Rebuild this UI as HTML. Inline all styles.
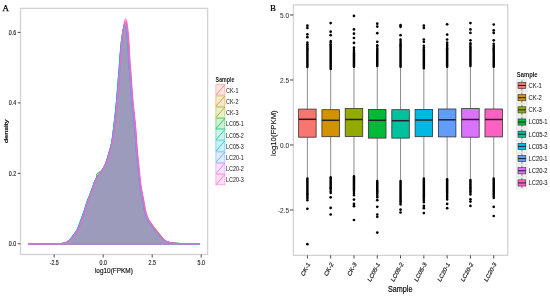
<!DOCTYPE html>
<html><head><meta charset="utf-8"><title>FPKM density and boxplot</title>
<style>
html,body{margin:0;padding:0;background:#fff;}
body{width:550px;height:296px;overflow:hidden;}
svg{display:block;}
</style></head>
<body>
<svg width="550" height="296" viewBox="0 0 550 296">
<rect x="0" y="0" width="550" height="296" fill="#fff"/>
<rect x="20.50" y="8.40" width="187.10" height="246.10" fill="none" stroke="#d2d2d2" stroke-width="1.3" />
<path d="M28.50,243.80 C32.08,243.80 45.08,243.80 50.00,243.78 C54.92,243.76 56.00,243.76 58.00,243.70 C60.00,243.65 60.87,243.57 61.99,243.45 C63.11,243.34 63.92,243.21 64.72,243.01 C65.52,242.80 66.14,242.55 66.78,242.22 C67.43,241.89 67.96,241.51 68.58,241.03 C69.20,240.55 69.73,240.12 70.50,239.34 C71.27,238.57 72.33,237.45 73.20,236.38 C74.07,235.30 74.92,234.08 75.70,232.91 C76.48,231.74 77.22,230.67 77.90,229.35 C78.58,228.03 79.20,226.51 79.80,224.99 C80.40,223.47 80.92,221.85 81.50,220.24 C82.08,218.62 82.72,216.94 83.30,215.29 C83.88,213.64 84.47,211.99 85.00,210.34 C85.53,208.69 86.00,207.04 86.50,205.39 C87.00,203.74 87.42,202.09 88.00,200.44 C88.58,198.79 89.37,197.14 90.00,195.49 C90.63,193.84 91.20,192.19 91.80,190.54 C92.40,188.89 93.02,187.24 93.60,185.59 C94.18,183.94 94.58,182.29 95.30,180.64 C96.02,178.99 97.18,176.94 97.90,175.69 C98.62,174.43 99.08,173.77 99.60,173.11 C100.12,172.45 100.55,172.21 101.00,171.73 C101.45,171.25 101.70,171.23 102.30,170.24 C102.90,169.25 103.85,167.36 104.60,165.79 C105.35,164.22 105.93,163.31 106.80,160.84 C107.67,158.36 108.87,154.24 109.80,150.94 C110.73,147.64 111.73,144.34 112.40,141.04 C113.07,137.74 113.37,134.44 113.80,131.14 C114.23,127.84 114.45,126.19 115.00,121.24 C115.55,116.29 116.48,108.04 117.10,101.44 C117.72,94.84 118.20,87.91 118.70,81.64 C119.20,75.37 119.70,69.10 120.10,63.82 C120.50,58.54 120.79,53.92 121.10,49.96 C121.41,46.00 121.65,43.03 121.94,40.06 C122.23,37.09 122.57,34.28 122.85,32.14 C123.13,29.99 123.36,28.64 123.62,27.19 C123.87,25.74 124.10,24.43 124.37,23.43 C124.63,22.42 124.93,21.43 125.20,21.15 C125.47,20.87 125.72,21.10 126.00,21.74 C126.28,22.39 126.61,23.44 126.88,25.01 C127.16,26.58 127.41,28.97 127.65,31.15 C127.89,33.33 128.11,35.44 128.32,38.08 C128.53,40.72 128.67,43.03 128.90,46.99 C129.13,50.95 129.37,56.89 129.70,61.84 C130.03,66.79 130.40,70.09 130.90,76.69 C131.40,83.29 132.05,94.01 132.70,101.44 C133.35,108.86 134.23,115.46 134.80,121.24 C135.37,127.01 135.72,131.14 136.10,136.09 C136.48,141.04 136.73,146.48 137.10,150.94 C137.47,155.39 137.93,159.19 138.30,162.82 C138.67,166.45 138.98,169.58 139.30,172.72 C139.62,175.85 139.83,178.66 140.20,181.63 C140.57,184.60 140.95,187.40 141.50,190.54 C142.05,193.67 142.87,197.14 143.50,200.44 C144.13,203.74 144.77,207.86 145.30,210.34 C145.83,212.81 146.22,213.80 146.70,215.29 C147.18,216.77 147.62,218.06 148.20,219.25 C148.78,220.44 149.55,221.43 150.20,222.42 C150.85,223.41 151.20,223.90 152.10,225.19 C153.00,226.47 154.33,228.49 155.60,230.14 C156.87,231.79 158.25,233.44 159.70,235.09 C161.15,236.74 162.87,238.88 164.30,240.04 C165.72,241.19 166.81,241.51 168.25,242.02 C169.69,242.53 171.00,242.86 172.96,243.11 C174.92,243.35 177.16,243.40 180.00,243.50 C182.84,243.61 186.75,243.67 190.00,243.72 C193.25,243.77 197.92,243.79 199.50,243.80 Z" fill="#F8766D" fill-opacity="0.2" stroke="#F8766D" stroke-width="0.9" stroke-linejoin="round"/>
<path d="M28.50,243.80 C32.08,243.80 45.08,243.80 50.00,243.78 C54.92,243.76 56.00,243.76 58.00,243.70 C60.00,243.65 60.87,243.57 61.99,243.46 C63.11,243.34 63.92,243.22 64.72,243.01 C65.52,242.81 66.14,242.55 66.78,242.23 C67.43,241.90 67.96,241.52 68.58,241.05 C69.20,240.57 69.73,240.15 70.50,239.38 C71.27,238.61 72.33,237.49 73.20,236.43 C74.07,235.36 74.92,234.15 75.70,232.99 C76.48,231.82 77.22,230.76 77.90,229.45 C78.58,228.14 79.20,226.63 79.80,225.12 C80.40,223.62 80.92,222.01 81.50,220.40 C82.08,218.80 82.72,217.13 83.30,215.49 C83.88,213.85 84.47,212.21 85.00,210.57 C85.53,208.94 86.00,207.30 86.50,205.66 C87.00,204.02 87.42,202.38 88.00,200.74 C88.58,199.11 89.37,197.47 90.00,195.83 C90.63,194.19 91.20,192.55 91.80,190.91 C92.40,189.28 93.02,187.64 93.60,186.00 C94.18,184.36 94.58,182.72 95.30,181.08 C96.02,179.45 97.18,177.41 97.90,176.17 C98.62,174.92 99.08,174.27 99.60,173.61 C100.12,172.96 100.55,172.71 101.00,172.24 C101.45,171.76 101.70,171.75 102.30,170.76 C102.90,169.78 103.85,167.90 104.60,166.34 C105.35,164.78 105.93,163.88 106.80,161.42 C107.67,158.97 108.87,154.87 109.80,151.59 C110.73,148.32 111.73,145.04 112.40,141.76 C113.07,138.49 113.37,135.21 113.80,131.93 C114.23,128.66 114.45,127.02 115.00,122.10 C115.55,117.19 116.48,109.00 117.10,102.44 C117.72,95.89 118.20,89.01 118.70,82.78 C119.20,76.56 119.70,70.33 120.10,65.09 C120.50,59.85 120.80,55.26 121.10,51.33 C121.40,47.40 121.64,44.45 121.93,41.50 C122.21,38.55 122.53,35.76 122.80,33.63 C123.07,31.50 123.30,30.16 123.54,28.72 C123.79,27.28 124.02,25.98 124.28,24.98 C124.54,23.98 124.83,23.00 125.10,22.72 C125.37,22.44 125.62,22.67 125.89,23.31 C126.17,23.95 126.50,25.00 126.76,26.56 C127.03,28.11 127.28,30.49 127.51,32.65 C127.74,34.81 127.95,36.91 128.14,39.53 C128.34,42.15 128.47,44.45 128.70,48.38 C128.93,52.31 129.17,58.21 129.50,63.12 C129.83,68.04 130.20,71.32 130.70,77.87 C131.20,84.42 131.85,95.07 132.50,102.44 C133.15,109.82 134.03,116.37 134.60,122.10 C135.17,127.84 135.52,131.93 135.90,136.85 C136.28,141.76 136.53,147.17 136.90,151.59 C137.27,156.02 137.73,159.79 138.10,163.39 C138.47,166.99 138.78,170.11 139.10,173.22 C139.42,176.33 139.63,179.12 140.00,182.07 C140.37,185.02 140.75,187.80 141.30,190.91 C141.85,194.03 142.67,197.47 143.30,200.74 C143.93,204.02 144.57,208.12 145.10,210.57 C145.63,213.03 146.02,214.02 146.50,215.49 C146.98,216.96 147.42,218.24 148.00,219.42 C148.58,220.60 149.35,221.58 150.00,222.57 C150.65,223.55 151.00,224.04 151.90,225.32 C152.80,226.60 154.13,228.60 155.40,230.23 C156.67,231.87 158.05,233.51 159.50,235.15 C160.95,236.79 162.66,238.92 164.10,240.06 C165.54,241.21 166.68,241.52 168.15,242.03 C169.62,242.54 170.96,242.87 172.93,243.11 C174.91,243.36 177.16,243.40 180.00,243.51 C182.84,243.61 186.75,243.67 190.00,243.72 C193.25,243.77 197.92,243.79 199.50,243.80 Z" fill="#D39200" fill-opacity="0.2" stroke="#D39200" stroke-width="0.9" stroke-linejoin="round"/>
<path d="M28.50,243.80 C32.08,243.80 45.08,243.80 50.00,243.78 C54.92,243.76 56.00,243.76 58.00,243.70 C60.00,243.65 60.87,243.57 61.99,243.46 C63.12,243.34 63.93,243.22 64.73,243.01 C65.54,242.81 66.17,242.55 66.83,242.22 C67.48,241.90 68.04,241.52 68.67,241.04 C69.30,240.57 69.83,240.14 70.60,239.37 C71.37,238.60 72.43,237.48 73.30,236.41 C74.17,235.35 75.02,234.13 75.80,232.97 C76.58,231.80 77.32,230.73 78.00,229.42 C78.68,228.11 79.30,226.60 79.90,225.09 C80.50,223.57 81.02,221.97 81.60,220.36 C82.18,218.75 82.82,217.07 83.40,215.43 C83.98,213.79 84.57,212.15 85.10,210.51 C85.63,208.87 86.10,207.22 86.60,205.58 C87.10,203.94 87.52,202.30 88.10,200.66 C88.68,199.02 89.47,197.37 90.10,195.73 C90.73,194.09 91.30,192.45 91.90,190.81 C92.50,189.17 93.12,187.52 93.70,185.88 C94.28,184.24 94.68,182.60 95.40,180.96 C96.12,179.32 97.28,177.28 98.00,176.03 C98.72,174.78 99.18,174.13 99.70,173.47 C100.22,172.81 100.65,172.57 101.10,172.09 C101.55,171.62 101.80,171.60 102.40,170.61 C103.00,169.63 103.95,167.74 104.70,166.18 C105.45,164.62 106.03,163.72 106.90,161.26 C107.77,158.79 108.97,154.69 109.90,151.41 C110.83,148.12 111.83,144.84 112.50,141.56 C113.17,138.27 113.47,134.99 113.90,131.71 C114.33,128.42 114.55,126.78 115.10,121.86 C115.65,116.93 116.58,108.72 117.20,102.16 C117.82,95.59 118.30,88.70 118.80,82.46 C119.30,76.22 119.80,69.98 120.20,64.73 C120.60,59.47 120.90,54.88 121.20,50.94 C121.50,47.00 121.74,44.04 122.03,41.09 C122.31,38.13 122.63,35.34 122.90,33.21 C123.17,31.07 123.40,29.73 123.64,28.28 C123.89,26.84 124.12,25.54 124.38,24.54 C124.64,23.54 124.93,22.55 125.20,22.27 C125.47,21.99 125.72,22.22 126.00,22.86 C126.28,23.50 126.61,24.56 126.88,26.12 C127.16,27.67 127.41,30.06 127.65,32.22 C127.89,34.39 128.11,36.49 128.32,39.12 C128.53,41.74 128.67,44.04 128.90,47.98 C129.13,51.92 129.37,57.83 129.70,62.76 C130.03,67.68 130.40,70.97 130.90,77.53 C131.40,84.10 132.05,94.77 132.70,102.16 C133.35,109.54 134.23,116.11 134.80,121.86 C135.37,127.60 135.72,131.71 136.10,136.63 C136.48,141.56 136.73,146.97 137.10,151.41 C137.47,155.84 137.93,159.62 138.30,163.23 C138.67,166.84 138.98,169.96 139.30,173.08 C139.62,176.20 139.83,178.99 140.20,181.94 C140.57,184.90 140.95,187.69 141.50,190.81 C142.05,193.93 142.87,197.37 143.50,200.66 C144.13,203.94 144.77,208.04 145.30,210.51 C145.83,212.97 146.21,213.95 146.71,215.43 C147.20,216.91 147.64,218.19 148.27,219.37 C148.89,220.55 149.72,221.54 150.46,222.52 C151.19,223.51 151.63,224.00 152.68,225.28 C153.74,226.56 155.46,228.57 156.78,230.21 C158.09,231.85 159.28,233.49 160.57,235.13 C161.86,236.77 163.24,238.91 164.54,240.06 C165.84,241.21 166.94,241.52 168.36,242.03 C169.77,242.54 171.07,242.86 173.02,243.11 C174.97,243.36 177.22,243.40 180.05,243.50 C182.89,243.61 186.80,243.67 190.05,243.72 C193.30,243.77 197.96,243.79 199.55,243.80 Z" fill="#93AA00" fill-opacity="0.2" stroke="#93AA00" stroke-width="0.9" stroke-linejoin="round"/>
<path d="M28.50,243.80 C32.08,243.80 45.08,243.80 50.00,243.78 C54.92,243.76 56.00,243.76 58.00,243.70 C60.00,243.65 60.88,243.57 61.98,243.46 C63.07,243.35 63.83,243.23 64.57,243.02 C65.30,242.82 65.85,242.57 66.39,242.25 C66.94,241.92 67.30,241.55 67.83,241.08 C68.37,240.62 68.86,240.19 69.60,239.44 C70.34,238.68 71.43,237.58 72.30,236.53 C73.17,235.47 74.02,234.28 74.80,233.13 C75.58,231.98 76.32,230.93 77.00,229.64 C77.68,228.34 78.30,226.86 78.90,225.37 C79.50,223.88 80.02,222.30 80.60,220.71 C81.18,219.13 81.82,217.48 82.40,215.86 C82.98,214.25 83.57,212.63 84.10,211.01 C84.63,209.40 85.10,207.78 85.60,206.16 C86.10,204.55 86.52,202.93 87.10,201.31 C87.68,199.70 88.47,198.08 89.10,196.46 C89.73,194.85 90.30,193.23 90.90,191.61 C91.50,190.00 92.12,188.38 92.70,186.76 C93.28,185.15 93.76,183.53 94.40,181.91 C95.04,180.30 96.24,178.29 96.56,177.06 C96.89,175.84 96.16,175.19 96.34,174.54 C96.52,173.90 97.02,173.65 97.64,173.18 C98.26,172.72 99.07,172.70 100.08,171.73 C101.09,170.76 102.73,168.90 103.70,167.36 C104.67,165.83 105.03,164.94 105.90,162.51 C106.77,160.09 107.97,156.05 108.90,152.81 C109.83,149.58 110.83,146.35 111.50,143.11 C112.17,139.88 112.47,136.65 112.90,133.41 C113.33,130.18 113.55,128.56 114.10,123.71 C114.65,118.86 115.58,110.78 116.20,104.31 C116.82,97.85 117.30,91.06 117.80,84.91 C118.30,78.77 118.80,72.63 119.20,67.45 C119.60,62.28 119.89,57.75 120.20,53.87 C120.51,49.99 120.76,47.08 121.07,44.17 C121.37,41.26 121.75,38.52 122.05,36.41 C122.35,34.31 122.59,32.99 122.86,31.56 C123.13,30.14 123.37,28.86 123.65,27.88 C123.92,26.89 124.23,25.92 124.50,25.65 C124.77,25.37 125.02,25.60 125.30,26.23 C125.58,26.86 125.91,27.89 126.18,29.43 C126.46,30.97 126.71,33.31 126.95,35.44 C127.19,37.58 127.41,39.65 127.62,42.23 C127.83,44.82 127.97,47.08 128.20,50.96 C128.43,54.84 128.67,60.66 129.00,65.51 C129.33,70.36 129.70,73.60 130.20,80.06 C130.70,86.53 131.35,97.04 132.00,104.31 C132.65,111.59 133.53,118.06 134.10,123.71 C134.67,129.37 135.02,133.41 135.40,138.26 C135.78,143.11 136.03,148.45 136.40,152.81 C136.77,157.18 137.23,160.90 137.60,164.45 C137.97,168.01 138.28,171.08 138.60,174.15 C138.92,177.23 139.13,179.97 139.50,182.88 C139.87,185.79 140.25,188.54 140.80,191.61 C141.35,194.69 142.17,198.08 142.80,201.31 C143.43,204.55 144.07,208.59 144.60,211.01 C145.13,213.44 145.52,214.41 146.00,215.86 C146.48,217.32 146.92,218.58 147.50,219.74 C148.08,220.91 148.85,221.88 149.50,222.85 C150.15,223.82 150.50,224.30 151.40,225.56 C152.30,226.82 153.63,228.80 154.90,230.41 C156.17,232.03 157.55,233.65 159.00,235.26 C160.45,236.88 162.12,238.98 163.60,240.11 C165.08,241.25 166.36,241.55 167.90,242.05 C169.44,242.56 170.85,242.88 172.87,243.12 C174.88,243.36 177.14,243.41 180.00,243.51 C182.86,243.61 186.75,243.67 190.00,243.72 C193.25,243.77 197.92,243.79 199.50,243.80 Z" fill="#00BA38" fill-opacity="0.2" stroke="#00BA38" stroke-width="0.9" stroke-linejoin="round"/>
<path d="M28.50,243.80 C32.08,243.80 45.08,243.80 50.00,243.78 C54.92,243.76 56.00,243.76 58.00,243.70 C60.00,243.65 60.88,243.57 61.98,243.46 C63.08,243.34 63.84,243.22 64.58,243.02 C65.33,242.82 65.88,242.56 66.44,242.24 C66.99,241.91 67.37,241.54 67.92,241.07 C68.46,240.60 68.95,240.18 69.70,239.41 C70.45,238.65 71.53,237.54 72.40,236.49 C73.27,235.43 74.12,234.23 74.90,233.08 C75.68,231.92 76.42,230.87 77.10,229.56 C77.78,228.26 78.40,226.77 79.00,225.28 C79.60,223.78 80.12,222.19 80.70,220.59 C81.28,219.00 81.92,217.34 82.50,215.72 C83.08,214.09 83.67,212.47 84.20,210.84 C84.73,209.22 85.20,207.59 85.70,205.97 C86.20,204.34 86.62,202.72 87.20,201.09 C87.78,199.47 88.57,197.84 89.20,196.22 C89.83,194.59 90.40,192.97 91.00,191.34 C91.60,189.72 92.22,188.09 92.80,186.47 C93.38,184.84 93.78,183.22 94.50,181.59 C95.22,179.97 96.38,177.95 97.10,176.72 C97.82,175.49 98.28,174.84 98.80,174.19 C99.32,173.53 99.75,173.29 100.20,172.82 C100.65,172.35 100.90,172.33 101.50,171.36 C102.10,170.38 103.05,168.51 103.80,166.97 C104.55,165.43 105.13,164.53 106.00,162.09 C106.87,159.66 108.07,155.59 109.00,152.34 C109.93,149.09 110.93,145.84 111.60,142.59 C112.27,139.34 112.57,136.09 113.00,132.84 C113.43,129.59 113.65,127.97 114.20,123.09 C114.75,118.22 115.68,110.09 116.30,103.59 C116.92,97.09 117.40,90.27 117.90,84.09 C118.40,77.92 118.90,71.75 119.30,66.55 C119.70,61.35 119.99,56.80 120.30,52.90 C120.61,49.00 120.86,46.07 121.17,43.15 C121.47,40.22 121.85,37.46 122.15,35.34 C122.45,33.23 122.69,31.90 122.96,30.47 C123.23,29.04 123.47,27.76 123.75,26.76 C124.02,25.77 124.33,24.80 124.60,24.52 C124.87,24.25 125.12,24.47 125.39,25.11 C125.67,25.74 126.00,26.78 126.26,28.33 C126.53,29.87 126.78,32.23 127.01,34.37 C127.24,36.52 127.45,38.59 127.64,41.19 C127.84,43.79 127.97,46.07 128.20,49.97 C128.43,53.87 128.67,59.72 129.00,64.59 C129.33,69.47 129.70,72.72 130.20,79.22 C130.70,85.72 131.35,96.28 132.00,103.59 C132.65,110.91 133.53,117.41 134.10,123.09 C134.67,128.78 135.02,132.84 135.40,137.72 C135.78,142.59 136.03,147.96 136.40,152.34 C136.77,156.73 137.23,160.47 137.60,164.05 C137.97,167.62 138.28,170.71 138.60,173.80 C138.92,176.88 139.13,179.64 139.50,182.57 C139.87,185.50 140.25,188.26 140.80,191.34 C141.35,194.43 142.17,197.84 142.80,201.09 C143.43,204.34 144.07,208.41 144.60,210.84 C145.13,213.28 145.52,214.26 146.00,215.72 C146.48,217.18 146.92,218.45 147.50,219.62 C148.08,220.79 148.85,221.76 149.50,222.74 C150.15,223.71 150.50,224.20 151.40,225.47 C152.30,226.74 153.63,228.72 154.90,230.34 C156.17,231.97 157.55,233.59 159.00,235.22 C160.45,236.84 162.12,238.96 163.60,240.09 C165.08,241.23 166.36,241.54 167.90,242.04 C169.44,242.55 170.85,242.87 172.87,243.12 C174.88,243.36 177.14,243.41 180.00,243.51 C182.86,243.61 186.75,243.67 190.00,243.72 C193.25,243.77 197.92,243.79 199.50,243.80 Z" fill="#00C19F" fill-opacity="0.2" stroke="#00C19F" stroke-width="0.9" stroke-linejoin="round"/>
<path d="M28.50,243.80 C32.08,243.80 45.08,243.80 50.00,243.78 C54.92,243.76 56.00,243.76 58.00,243.70 C60.00,243.65 60.88,243.57 61.98,243.46 C63.07,243.35 63.83,243.23 64.57,243.02 C65.30,242.82 65.85,242.57 66.39,242.25 C66.94,241.92 67.30,241.55 67.83,241.08 C68.37,240.62 68.86,240.19 69.60,239.44 C70.34,238.68 71.43,237.58 72.30,236.53 C73.17,235.47 74.02,234.28 74.80,233.13 C75.58,231.98 76.32,230.93 77.00,229.64 C77.68,228.34 78.30,226.86 78.90,225.37 C79.50,223.88 80.02,222.30 80.60,220.71 C81.18,219.13 81.82,217.48 82.40,215.86 C82.98,214.25 83.57,212.63 84.10,211.01 C84.63,209.40 85.10,207.78 85.60,206.16 C86.10,204.55 86.52,202.93 87.10,201.31 C87.68,199.70 88.47,198.08 89.10,196.46 C89.73,194.85 90.30,193.23 90.90,191.61 C91.50,190.00 92.12,188.38 92.70,186.76 C93.28,185.15 93.68,183.53 94.40,181.91 C95.12,180.30 96.28,178.29 97.00,177.06 C97.72,175.84 98.18,175.19 98.70,174.54 C99.22,173.90 99.65,173.65 100.10,173.18 C100.55,172.72 100.80,172.70 101.40,171.73 C102.00,170.76 102.95,168.90 103.70,167.36 C104.45,165.83 105.03,164.94 105.90,162.51 C106.77,160.09 107.97,156.05 108.90,152.81 C109.83,149.58 110.83,146.35 111.50,143.11 C112.17,139.88 112.47,136.65 112.90,133.41 C113.33,130.18 113.55,128.56 114.10,123.71 C114.65,118.86 115.58,110.78 116.20,104.31 C116.82,97.85 117.30,91.06 117.80,84.91 C118.30,78.77 118.80,72.63 119.20,67.45 C119.60,62.28 119.89,57.75 120.20,53.87 C120.51,49.99 120.76,47.08 121.07,44.17 C121.37,41.26 121.75,38.52 122.05,36.41 C122.35,34.31 122.59,32.99 122.86,31.56 C123.13,30.14 123.37,28.86 123.65,27.88 C123.92,26.89 124.23,25.92 124.50,25.65 C124.77,25.37 125.02,25.60 125.30,26.23 C125.58,26.86 125.91,27.89 126.18,29.43 C126.46,30.97 126.71,33.31 126.95,35.44 C127.19,37.58 127.41,39.65 127.62,42.23 C127.83,44.82 127.97,47.08 128.20,50.96 C128.43,54.84 128.67,60.66 129.00,65.51 C129.33,70.36 129.70,73.60 130.20,80.06 C130.70,86.53 131.35,97.04 132.00,104.31 C132.65,111.59 133.53,118.06 134.10,123.71 C134.67,129.37 135.02,133.41 135.40,138.26 C135.78,143.11 136.03,148.45 136.40,152.81 C136.77,157.18 137.23,160.90 137.60,164.45 C137.97,168.01 138.28,171.08 138.60,174.15 C138.92,177.23 139.13,179.97 139.50,182.88 C139.87,185.79 140.25,188.54 140.80,191.61 C141.35,194.69 142.17,198.08 142.80,201.31 C143.43,204.55 144.07,208.59 144.60,211.01 C145.13,213.44 145.52,214.41 146.00,215.86 C146.48,217.32 146.92,218.58 147.50,219.74 C148.08,220.91 148.85,221.88 149.50,222.85 C150.15,223.82 150.50,224.30 151.40,225.56 C152.30,226.82 153.63,228.80 154.90,230.41 C156.17,232.03 157.55,233.65 159.00,235.26 C160.45,236.88 162.12,238.98 163.60,240.11 C165.08,241.25 166.36,241.55 167.90,242.05 C169.44,242.56 170.85,242.88 172.87,243.12 C174.88,243.36 177.14,243.41 180.00,243.51 C182.86,243.61 186.75,243.67 190.00,243.72 C193.25,243.77 197.92,243.79 199.50,243.80 Z" fill="#00B9E3" fill-opacity="0.2" stroke="#00B9E3" stroke-width="0.9" stroke-linejoin="round"/>
<path d="M28.50,243.80 C32.08,243.80 45.08,243.80 50.00,243.78 C54.92,243.76 56.00,243.76 58.00,243.70 C60.00,243.65 60.88,243.57 61.98,243.46 C63.09,243.35 63.87,243.23 64.63,243.02 C65.40,242.82 65.98,242.57 66.57,242.25 C67.16,241.92 67.59,241.55 68.17,241.08 C68.74,240.62 69.24,240.19 70.00,239.44 C70.76,238.68 71.83,237.58 72.70,236.53 C73.57,235.47 74.42,234.28 75.20,233.13 C75.98,231.98 76.72,230.93 77.40,229.64 C78.08,228.34 78.70,226.86 79.30,225.37 C79.90,223.88 80.42,222.30 81.00,220.71 C81.58,219.13 82.22,217.48 82.80,215.86 C83.38,214.25 83.97,212.63 84.50,211.01 C85.03,209.40 85.50,207.78 86.00,206.16 C86.50,204.55 86.92,202.93 87.50,201.31 C88.08,199.70 88.87,198.08 89.50,196.46 C90.13,194.85 90.70,193.23 91.30,191.61 C91.90,190.00 92.52,188.38 93.10,186.76 C93.68,185.15 94.08,183.53 94.80,181.91 C95.52,180.30 96.68,178.29 97.40,177.06 C98.12,175.84 98.58,175.19 99.10,174.54 C99.62,173.90 100.05,173.65 100.50,173.18 C100.95,172.72 101.20,172.70 101.80,171.73 C102.40,170.76 103.35,168.90 104.10,167.36 C104.85,165.83 105.43,164.94 106.30,162.51 C107.17,160.09 108.37,156.05 109.30,152.81 C110.23,149.58 111.23,146.35 111.90,143.11 C112.57,139.88 112.87,136.65 113.30,133.41 C113.73,130.18 113.95,128.56 114.50,123.71 C115.05,118.86 115.98,110.78 116.60,104.31 C117.22,97.85 117.70,91.06 118.20,84.91 C118.70,78.77 119.20,72.63 119.60,67.45 C120.00,62.28 120.29,57.75 120.60,53.87 C120.91,49.99 121.15,47.08 121.44,44.17 C121.73,41.26 122.07,38.52 122.35,36.41 C122.63,34.31 122.86,32.99 123.12,31.56 C123.37,30.14 123.60,28.86 123.87,27.88 C124.13,26.89 124.43,25.92 124.70,25.65 C124.97,25.37 125.22,25.60 125.49,26.23 C125.77,26.86 126.10,27.89 126.36,29.43 C126.63,30.97 126.88,33.31 127.11,35.44 C127.34,37.58 127.55,39.65 127.74,42.23 C127.94,44.82 128.07,47.08 128.30,50.96 C128.53,54.84 128.77,60.66 129.10,65.51 C129.43,70.36 129.80,73.60 130.30,80.06 C130.80,86.53 131.45,97.04 132.10,104.31 C132.75,111.59 133.63,118.06 134.20,123.71 C134.77,129.37 135.12,133.41 135.50,138.26 C135.88,143.11 136.13,148.45 136.50,152.81 C136.87,157.18 137.33,160.90 137.70,164.45 C138.07,168.01 138.38,171.08 138.70,174.15 C139.02,177.23 139.23,179.97 139.60,182.88 C139.97,185.79 140.35,188.54 140.90,191.61 C141.45,194.69 142.27,198.08 142.90,201.31 C143.53,204.55 144.17,208.59 144.70,211.01 C145.23,213.44 145.62,214.41 146.10,215.86 C146.58,217.32 147.02,218.58 147.60,219.74 C148.18,220.91 148.95,221.88 149.60,222.85 C150.25,223.82 150.60,224.30 151.50,225.56 C152.40,226.82 153.73,228.80 155.00,230.41 C156.27,232.03 157.65,233.65 159.10,235.26 C160.55,236.88 162.22,238.98 163.70,240.11 C165.17,241.25 166.42,241.55 167.95,242.05 C169.48,242.56 170.87,242.88 172.88,243.12 C174.89,243.36 177.15,243.41 180.00,243.51 C182.85,243.61 186.75,243.67 190.00,243.72 C193.25,243.77 197.92,243.79 199.50,243.80 Z" fill="#619CFF" fill-opacity="0.2" stroke="#619CFF" stroke-width="0.9" stroke-linejoin="round"/>
<path d="M28.50,243.80 C32.08,243.80 45.08,243.80 50.00,243.78 C54.92,243.76 56.00,243.76 58.00,243.70 C60.00,243.65 60.87,243.57 61.99,243.46 C63.11,243.34 63.92,243.22 64.72,243.01 C65.52,242.81 66.14,242.55 66.78,242.22 C67.43,241.90 67.96,241.52 68.58,241.04 C69.20,240.57 69.73,240.14 70.50,239.37 C71.27,238.60 72.33,237.48 73.20,236.41 C74.07,235.35 74.92,234.13 75.70,232.97 C76.48,231.80 77.22,230.73 77.90,229.42 C78.58,228.11 79.20,226.60 79.80,225.09 C80.40,223.57 80.92,221.97 81.50,220.36 C82.08,218.75 82.72,217.07 83.30,215.43 C83.88,213.79 84.47,212.15 85.00,210.51 C85.53,208.87 86.00,207.22 86.50,205.58 C87.00,203.94 87.42,202.30 88.00,200.66 C88.58,199.02 89.37,197.37 90.00,195.73 C90.63,194.09 91.20,192.45 91.80,190.81 C92.40,189.17 93.02,187.52 93.60,185.88 C94.18,184.24 94.58,182.60 95.30,180.96 C96.02,179.32 97.18,177.28 97.90,176.03 C98.62,174.78 99.08,174.13 99.60,173.47 C100.12,172.81 100.55,172.57 101.00,172.09 C101.45,171.62 101.70,171.60 102.30,170.61 C102.90,169.63 103.85,167.74 104.60,166.18 C105.35,164.62 105.93,163.72 106.80,161.26 C107.67,158.79 108.87,154.69 109.80,151.41 C110.73,148.12 111.73,144.84 112.40,141.56 C113.07,138.27 113.37,134.99 113.80,131.71 C114.23,128.42 114.45,126.78 115.00,121.86 C115.55,116.93 116.48,108.72 117.10,102.16 C117.72,95.59 118.20,88.70 118.70,82.46 C119.20,76.22 119.70,69.98 120.10,64.73 C120.50,59.47 120.80,54.88 121.10,50.94 C121.40,47.00 121.64,44.04 121.93,41.09 C122.21,38.13 122.53,35.34 122.80,33.21 C123.07,31.07 123.30,29.73 123.54,28.28 C123.79,26.84 124.02,25.54 124.28,24.54 C124.54,23.54 124.83,22.55 125.10,22.27 C125.37,21.99 125.62,22.22 125.89,22.86 C126.17,23.50 126.50,24.56 126.76,26.12 C127.03,27.67 127.28,30.06 127.51,32.22 C127.74,34.39 127.95,36.49 128.14,39.12 C128.34,41.74 128.47,44.04 128.70,47.98 C128.93,51.92 129.17,57.83 129.50,62.76 C129.83,67.68 130.20,70.97 130.70,77.53 C131.20,84.10 131.85,94.77 132.50,102.16 C133.15,109.54 134.03,116.11 134.60,121.86 C135.17,127.60 135.52,131.71 135.90,136.63 C136.28,141.56 136.53,146.97 136.90,151.41 C137.27,155.84 137.73,159.62 138.10,163.23 C138.47,166.84 138.78,169.96 139.10,173.08 C139.42,176.20 139.63,178.99 140.00,181.94 C140.37,184.90 140.75,187.69 141.30,190.81 C141.85,193.93 142.67,197.37 143.30,200.66 C143.93,203.94 144.57,208.04 145.10,210.51 C145.63,212.97 146.02,213.95 146.50,215.43 C146.98,216.91 147.42,218.19 148.00,219.37 C148.58,220.55 149.35,221.54 150.00,222.52 C150.65,223.51 151.00,224.00 151.90,225.28 C152.80,226.56 154.13,228.57 155.40,230.21 C156.67,231.85 158.05,233.49 159.50,235.13 C160.95,236.77 162.66,238.91 164.10,240.06 C165.54,241.21 166.68,241.52 168.15,242.03 C169.62,242.54 170.96,242.86 172.93,243.11 C174.91,243.36 177.16,243.40 180.00,243.50 C182.84,243.61 186.75,243.67 190.00,243.72 C193.25,243.77 197.92,243.79 199.50,243.80 Z" fill="#DB72FB" fill-opacity="0.2" stroke="#DB72FB" stroke-width="0.9" stroke-linejoin="round"/>
<path d="M28.50,243.80 C32.08,243.80 45.08,243.80 50.00,243.78 C54.92,243.76 56.00,243.75 58.00,243.70 C60.00,243.64 60.87,243.57 62.00,243.45 C63.13,243.33 63.97,243.21 64.80,243.00 C65.63,242.79 66.30,242.53 67.00,242.20 C67.70,241.87 68.33,241.48 69.00,241.00 C69.67,240.52 70.22,240.08 71.00,239.30 C71.78,238.52 72.83,237.38 73.70,236.30 C74.57,235.22 75.42,233.98 76.20,232.80 C76.98,231.62 77.72,230.53 78.40,229.20 C79.08,227.87 79.70,226.33 80.30,224.80 C80.90,223.27 81.42,221.63 82.00,220.00 C82.58,218.37 83.22,216.67 83.80,215.00 C84.38,213.33 84.97,211.67 85.50,210.00 C86.03,208.33 86.50,206.67 87.00,205.00 C87.50,203.33 87.92,201.67 88.50,200.00 C89.08,198.33 89.87,196.67 90.50,195.00 C91.13,193.33 91.70,191.67 92.30,190.00 C92.90,188.33 93.52,186.67 94.10,185.00 C94.68,183.33 95.08,181.67 95.80,180.00 C96.52,178.33 97.68,176.27 98.40,175.00 C99.12,173.73 99.58,173.07 100.10,172.40 C100.62,171.73 101.05,171.48 101.50,171.00 C101.95,170.52 102.20,170.50 102.80,169.50 C103.40,168.50 104.35,166.58 105.10,165.00 C105.85,163.42 106.43,162.50 107.30,160.00 C108.17,157.50 109.37,153.33 110.30,150.00 C111.23,146.67 112.23,143.33 112.90,140.00 C113.57,136.67 113.87,133.33 114.30,130.00 C114.73,126.67 114.95,125.00 115.50,120.00 C116.05,115.00 116.98,106.67 117.60,100.00 C118.22,93.33 118.70,86.33 119.20,80.00 C119.70,73.67 120.20,67.33 120.60,62.00 C121.00,56.67 121.30,52.00 121.60,48.00 C121.90,44.00 122.13,41.00 122.40,38.00 C122.67,35.00 122.95,32.17 123.20,30.00 C123.45,27.83 123.67,26.47 123.90,25.00 C124.13,23.53 124.35,22.22 124.60,21.20 C124.85,20.18 125.13,19.18 125.40,18.90 C125.67,18.62 125.92,18.85 126.20,19.50 C126.48,20.15 126.82,21.22 127.10,22.80 C127.38,24.38 127.65,26.80 127.90,29.00 C128.15,31.20 128.38,33.33 128.60,36.00 C128.82,38.67 128.97,41.00 129.20,45.00 C129.43,49.00 129.67,55.00 130.00,60.00 C130.33,65.00 130.70,68.33 131.20,75.00 C131.70,81.67 132.35,92.50 133.00,100.00 C133.65,107.50 134.53,114.17 135.10,120.00 C135.67,125.83 136.02,130.00 136.40,135.00 C136.78,140.00 137.03,145.50 137.40,150.00 C137.77,154.50 138.23,158.33 138.60,162.00 C138.97,165.67 139.28,168.83 139.60,172.00 C139.92,175.17 140.13,178.00 140.50,181.00 C140.87,184.00 141.25,186.83 141.80,190.00 C142.35,193.17 143.17,196.67 143.80,200.00 C144.43,203.33 145.07,207.50 145.60,210.00 C146.13,212.50 146.52,213.50 147.00,215.00 C147.48,216.50 147.92,217.80 148.50,219.00 C149.08,220.20 149.85,221.20 150.50,222.20 C151.15,223.20 151.50,223.70 152.40,225.00 C153.30,226.30 154.63,228.33 155.90,230.00 C157.17,231.67 158.55,233.33 160.00,235.00 C161.45,236.67 163.20,238.83 164.60,240.00 C166.00,241.17 167.00,241.48 168.40,242.00 C169.80,242.52 171.07,242.85 173.00,243.10 C174.93,243.35 177.17,243.40 180.00,243.50 C182.83,243.60 186.75,243.67 190.00,243.72 C193.25,243.77 197.92,243.79 199.50,243.80 Z" fill="#FF61C3" fill-opacity="0.2" stroke="#FF61C3" stroke-width="0.9" stroke-linejoin="round"/>
<line x1="17.80" y1="243.80" x2="20.50" y2="243.80" stroke="#4a4a4a" stroke-width="1.0" />
<text transform="translate(16.20,246.35) scale(1,1.2)" font-size="5.3" text-anchor="end" font-weight="normal" fill="#222" stroke="#222" stroke-width="0.12" font-family='"Liberation Sans", Arial, Helvetica, sans-serif' >0.0</text>
<line x1="17.80" y1="173.34" x2="20.50" y2="173.34" stroke="#4a4a4a" stroke-width="1.0" />
<text transform="translate(16.20,175.89) scale(1,1.2)" font-size="5.3" text-anchor="end" font-weight="normal" fill="#222" stroke="#222" stroke-width="0.12" font-family='"Liberation Sans", Arial, Helvetica, sans-serif' >0.2</text>
<line x1="17.80" y1="102.88" x2="20.50" y2="102.88" stroke="#4a4a4a" stroke-width="1.0" />
<text transform="translate(16.20,105.43) scale(1,1.2)" font-size="5.3" text-anchor="end" font-weight="normal" fill="#222" stroke="#222" stroke-width="0.12" font-family='"Liberation Sans", Arial, Helvetica, sans-serif' >0.4</text>
<line x1="17.80" y1="32.42" x2="20.50" y2="32.42" stroke="#4a4a4a" stroke-width="1.0" />
<text transform="translate(16.20,34.97) scale(1,1.2)" font-size="5.3" text-anchor="end" font-weight="normal" fill="#222" stroke="#222" stroke-width="0.12" font-family='"Liberation Sans", Arial, Helvetica, sans-serif' >0.6</text>
<line x1="54.20" y1="254.50" x2="54.20" y2="257.50" stroke="#4a4a4a" stroke-width="1.0" />
<text transform="translate(54.20,265.10) scale(1,1.2)" font-size="5.3" text-anchor="middle" font-weight="normal" fill="#222" stroke="#222" stroke-width="0.12" font-family='"Liberation Sans", Arial, Helvetica, sans-serif' >-2.5</text>
<line x1="103.20" y1="254.50" x2="103.20" y2="257.50" stroke="#4a4a4a" stroke-width="1.0" />
<text transform="translate(103.20,265.10) scale(1,1.2)" font-size="5.3" text-anchor="middle" font-weight="normal" fill="#222" stroke="#222" stroke-width="0.12" font-family='"Liberation Sans", Arial, Helvetica, sans-serif' >0.0</text>
<line x1="152.20" y1="254.50" x2="152.20" y2="257.50" stroke="#4a4a4a" stroke-width="1.0" />
<text transform="translate(152.20,265.10) scale(1,1.2)" font-size="5.3" text-anchor="middle" font-weight="normal" fill="#222" stroke="#222" stroke-width="0.12" font-family='"Liberation Sans", Arial, Helvetica, sans-serif' >2.5</text>
<line x1="201.20" y1="254.50" x2="201.20" y2="257.50" stroke="#4a4a4a" stroke-width="1.0" />
<text transform="translate(201.20,265.10) scale(1,1.2)" font-size="5.3" text-anchor="middle" font-weight="normal" fill="#222" stroke="#222" stroke-width="0.12" font-family='"Liberation Sans", Arial, Helvetica, sans-serif' >5.0</text>
<text transform="translate(113.90,272.50) scale(1,1.2)" font-size="6.45" text-anchor="middle" font-weight="normal" fill="#111" stroke="#111" stroke-width="0.15" font-family='"Liberation Sans", Arial, Helvetica, sans-serif' >log10(FPKM)</text>
<text transform="translate(8.30,131.30) scale(1,1.2) rotate(-90)" font-size="6.2" text-anchor="middle" font-weight="normal" fill="#000" stroke="#000" stroke-width="0.2" font-family='"Liberation Sans", Arial, Helvetica, sans-serif' >density</text>
<text transform="translate(2.60,10.70) scale(1,1.0)" font-size="8.9" text-anchor="start" font-weight="normal" fill="#000" stroke="#000" stroke-width="0.25" font-family='"Liberation Serif", "Times New Roman", serif' >A</text>
<text transform="translate(215.60,82.30) scale(1,1.2)" font-size="5.3" text-anchor="start" font-weight="bold" fill="#222" font-family='"Liberation Sans", Arial, Helvetica, sans-serif' >Sample</text>
<rect x="215.90" y="84.70" width="9.00" height="10.40" fill="#fee4e2" stroke="#fa9892" stroke-width="0.6" />
<line x1="215.90" y1="95.10" x2="224.90" y2="84.70" stroke="#F8766D" stroke-width="0.75" />
<text transform="translate(226.10,92.70) scale(1,1.2)" font-size="5.4" text-anchor="start" font-weight="normal" fill="#222" stroke="#222" stroke-width="0.03" font-family='"Liberation Sans", Arial, Helvetica, sans-serif' >CK-1</text>
<rect x="215.90" y="95.92" width="9.00" height="10.40" fill="#f6e9cc" stroke="#dead40" stroke-width="0.6" />
<line x1="215.90" y1="106.32" x2="224.90" y2="95.92" stroke="#D39200" stroke-width="0.75" />
<text transform="translate(226.10,103.92) scale(1,1.2)" font-size="5.4" text-anchor="start" font-weight="normal" fill="#222" stroke="#222" stroke-width="0.03" font-family='"Liberation Sans", Arial, Helvetica, sans-serif' >CK-2</text>
<rect x="215.90" y="107.14" width="9.00" height="10.40" fill="#e9eecc" stroke="#aebf40" stroke-width="0.6" />
<line x1="215.90" y1="117.54" x2="224.90" y2="107.14" stroke="#93AA00" stroke-width="0.75" />
<text transform="translate(226.10,115.14) scale(1,1.2)" font-size="5.4" text-anchor="start" font-weight="normal" fill="#222" stroke="#222" stroke-width="0.03" font-family='"Liberation Sans", Arial, Helvetica, sans-serif' >CK-3</text>
<rect x="215.90" y="118.36" width="9.00" height="10.40" fill="#ccf1d7" stroke="#40cb6a" stroke-width="0.6" />
<line x1="215.90" y1="128.76" x2="224.90" y2="118.36" stroke="#00BA38" stroke-width="0.75" />
<text transform="translate(226.10,126.36) scale(1,1.2)" font-size="5.4" text-anchor="start" font-weight="normal" fill="#222" stroke="#222" stroke-width="0.03" font-family='"Liberation Sans", Arial, Helvetica, sans-serif' >LC05-1</text>
<rect x="215.90" y="129.58" width="9.00" height="10.40" fill="#ccf3ec" stroke="#40d0b7" stroke-width="0.6" />
<line x1="215.90" y1="139.98" x2="224.90" y2="129.58" stroke="#00C19F" stroke-width="0.75" />
<text transform="translate(226.10,137.58) scale(1,1.2)" font-size="5.4" text-anchor="start" font-weight="normal" fill="#222" stroke="#222" stroke-width="0.03" font-family='"Liberation Sans", Arial, Helvetica, sans-serif' >LC05-2</text>
<rect x="215.90" y="140.80" width="9.00" height="10.40" fill="#ccf1f9" stroke="#40caea" stroke-width="0.6" />
<line x1="215.90" y1="151.20" x2="224.90" y2="140.80" stroke="#00B9E3" stroke-width="0.75" />
<text transform="translate(226.10,148.80) scale(1,1.2)" font-size="5.4" text-anchor="start" font-weight="normal" fill="#222" stroke="#222" stroke-width="0.03" font-family='"Liberation Sans", Arial, Helvetica, sans-serif' >LC05-3</text>
<rect x="215.90" y="152.02" width="9.00" height="10.40" fill="#dfebff" stroke="#88b5ff" stroke-width="0.6" />
<line x1="215.90" y1="162.42" x2="224.90" y2="152.02" stroke="#619CFF" stroke-width="0.75" />
<text transform="translate(226.10,160.02) scale(1,1.2)" font-size="5.4" text-anchor="start" font-weight="normal" fill="#222" stroke="#222" stroke-width="0.03" font-family='"Liberation Sans", Arial, Helvetica, sans-serif' >LC20-1</text>
<rect x="215.90" y="163.24" width="9.00" height="10.40" fill="#f8e3fe" stroke="#e495fc" stroke-width="0.6" />
<line x1="215.90" y1="173.64" x2="224.90" y2="163.24" stroke="#DB72FB" stroke-width="0.75" />
<text transform="translate(226.10,171.24) scale(1,1.2)" font-size="5.4" text-anchor="start" font-weight="normal" fill="#222" stroke="#222" stroke-width="0.03" font-family='"Liberation Sans", Arial, Helvetica, sans-serif' >LC20-2</text>
<rect x="215.90" y="174.46" width="9.00" height="10.40" fill="#ffdff3" stroke="#ff88d2" stroke-width="0.6" />
<line x1="215.90" y1="184.86" x2="224.90" y2="174.46" stroke="#FF61C3" stroke-width="0.75" />
<text transform="translate(226.10,182.46) scale(1,1.2)" font-size="5.4" text-anchor="start" font-weight="normal" fill="#222" stroke="#222" stroke-width="0.03" font-family='"Liberation Sans", Arial, Helvetica, sans-serif' >LC20-3</text>
<rect x="293.40" y="4.90" width="214.30" height="250.40" fill="none" stroke="#d2d2d2" stroke-width="1.3" />
<line x1="290.00" y1="15.00" x2="293.40" y2="15.00" stroke="#4a4a4a" stroke-width="1.0" />
<text transform="translate(289.10,17.70) scale(1,1.2)" font-size="6.5" text-anchor="end" font-weight="normal" fill="#333" stroke="#333" stroke-width="0.06" font-family='"Liberation Sans", Arial, Helvetica, sans-serif' >5.0</text>
<line x1="290.00" y1="80.00" x2="293.40" y2="80.00" stroke="#4a4a4a" stroke-width="1.0" />
<text transform="translate(289.10,82.70) scale(1,1.2)" font-size="6.5" text-anchor="end" font-weight="normal" fill="#333" stroke="#333" stroke-width="0.06" font-family='"Liberation Sans", Arial, Helvetica, sans-serif' >2.5</text>
<line x1="290.00" y1="145.00" x2="293.40" y2="145.00" stroke="#4a4a4a" stroke-width="1.0" />
<text transform="translate(289.10,147.70) scale(1,1.2)" font-size="6.5" text-anchor="end" font-weight="normal" fill="#333" stroke="#333" stroke-width="0.06" font-family='"Liberation Sans", Arial, Helvetica, sans-serif' >0.0</text>
<line x1="290.00" y1="210.00" x2="293.40" y2="210.00" stroke="#4a4a4a" stroke-width="1.0" />
<text transform="translate(289.10,212.70) scale(1,1.2)" font-size="6.5" text-anchor="end" font-weight="normal" fill="#333" stroke="#333" stroke-width="0.06" font-family='"Liberation Sans", Arial, Helvetica, sans-serif' >-2.5</text>
<text transform="translate(276.30,133.20) scale(1,1.2) rotate(-90)" font-size="6.5" text-anchor="middle" font-weight="normal" fill="#111" stroke="#111" stroke-width="0.12" font-family='"Liberation Sans", Arial, Helvetica, sans-serif' >log10(FPKM)</text>
<text transform="translate(270.00,10.90) scale(1,1.0)" font-size="8.9" text-anchor="start" font-weight="normal" fill="#000" stroke="#000" stroke-width="0.2" font-family='"Liberation Serif", "Times New Roman", serif' >B</text>
<text transform="translate(400.20,291.60) scale(1,1.3)" font-size="7.2" text-anchor="middle" font-weight="normal" fill="#111" stroke="#111" stroke-width="0.18" font-family='"Liberation Sans", Arial, Helvetica, sans-serif' >Sample</text>
<line x1="307.38" y1="67.00" x2="307.38" y2="109.10" stroke="#8c8c8c" stroke-width="1.0" />
<line x1="307.38" y1="137.20" x2="307.38" y2="178.60" stroke="#8c8c8c" stroke-width="1.0" />
<line x1="307.38" y1="49.60" x2="307.38" y2="67.00" stroke="#000" stroke-width="2.5" stroke-linecap="round"/>
<line x1="307.38" y1="178.60" x2="307.38" y2="193.20" stroke="#000" stroke-width="2.5" stroke-linecap="round"/>
<circle cx="307.38" cy="42.60" r="1.25" fill="#000"/>
<circle cx="307.38" cy="200.20" r="1.25" fill="#000"/>
<circle cx="307.38" cy="44.20" r="1.25" fill="#000"/>
<circle cx="307.38" cy="198.60" r="1.25" fill="#000"/>
<circle cx="307.38" cy="45.80" r="1.25" fill="#000"/>
<circle cx="307.38" cy="197.00" r="1.25" fill="#000"/>
<circle cx="307.38" cy="47.10" r="1.25" fill="#000"/>
<circle cx="307.38" cy="195.70" r="1.25" fill="#000"/>
<circle cx="307.38" cy="48.40" r="1.25" fill="#000"/>
<circle cx="307.38" cy="194.40" r="1.25" fill="#000"/>
<circle cx="307.38" cy="25.70" r="1.35" fill="#000"/>
<circle cx="307.38" cy="28.00" r="1.35" fill="#000"/>
<circle cx="307.38" cy="34.30" r="1.35" fill="#000"/>
<circle cx="307.38" cy="37.20" r="1.35" fill="#000"/>
<circle cx="307.38" cy="208.80" r="1.35" fill="#000"/>
<circle cx="307.38" cy="244.20" r="1.35" fill="#000"/>
<rect x="298.63" y="109.10" width="17.50" height="28.10" fill="#F8766D" stroke="#333" stroke-width="0.8" />
<line x1="298.63" y1="119.30" x2="316.13" y2="119.30" stroke="#222" stroke-width="1.5" />
<line x1="307.38" y1="255.30" x2="307.38" y2="258.50" stroke="#4a4a4a" stroke-width="1.0" />
<text transform="translate(310.38,264.30) scale(1,1.2) rotate(-57)" font-size="5.45" text-anchor="end" font-weight="normal" fill="#222" stroke="#222" stroke-width="0.2" font-family='"Liberation Sans", Arial, Helvetica, sans-serif' >CK-1</text>
<line x1="330.67" y1="69.00" x2="330.67" y2="109.70" stroke="#8c8c8c" stroke-width="1.0" />
<line x1="330.67" y1="136.70" x2="330.67" y2="177.20" stroke="#8c8c8c" stroke-width="1.0" />
<line x1="330.67" y1="48.00" x2="330.67" y2="69.00" stroke="#000" stroke-width="2.5" stroke-linecap="round"/>
<line x1="330.67" y1="177.20" x2="330.67" y2="186.00" stroke="#000" stroke-width="2.5" stroke-linecap="round"/>
<circle cx="330.67" cy="41.00" r="1.25" fill="#000"/>
<circle cx="330.67" cy="193.00" r="1.25" fill="#000"/>
<circle cx="330.67" cy="42.60" r="1.25" fill="#000"/>
<circle cx="330.67" cy="191.40" r="1.25" fill="#000"/>
<circle cx="330.67" cy="44.20" r="1.25" fill="#000"/>
<circle cx="330.67" cy="189.80" r="1.25" fill="#000"/>
<circle cx="330.67" cy="45.50" r="1.25" fill="#000"/>
<circle cx="330.67" cy="188.50" r="1.25" fill="#000"/>
<circle cx="330.67" cy="46.80" r="1.25" fill="#000"/>
<circle cx="330.67" cy="187.20" r="1.25" fill="#000"/>
<circle cx="330.67" cy="23.10" r="1.35" fill="#000"/>
<circle cx="330.67" cy="31.70" r="1.35" fill="#000"/>
<circle cx="330.67" cy="35.20" r="1.35" fill="#000"/>
<circle cx="330.67" cy="197.30" r="1.35" fill="#000"/>
<circle cx="330.67" cy="207.90" r="1.35" fill="#000"/>
<circle cx="330.67" cy="214.50" r="1.35" fill="#000"/>
<rect x="321.92" y="109.70" width="17.50" height="27.00" fill="#D39200" stroke="#333" stroke-width="0.8" />
<line x1="321.92" y1="120.30" x2="339.42" y2="120.30" stroke="#222" stroke-width="1.5" />
<line x1="330.67" y1="255.30" x2="330.67" y2="258.50" stroke="#4a4a4a" stroke-width="1.0" />
<text transform="translate(333.67,264.30) scale(1,1.2) rotate(-57)" font-size="5.45" text-anchor="end" font-weight="normal" fill="#222" stroke="#222" stroke-width="0.2" font-family='"Liberation Sans", Arial, Helvetica, sans-serif' >CK-2</text>
<line x1="353.96" y1="66.80" x2="353.96" y2="108.50" stroke="#8c8c8c" stroke-width="1.0" />
<line x1="353.96" y1="136.40" x2="353.96" y2="176.30" stroke="#8c8c8c" stroke-width="1.0" />
<line x1="353.96" y1="54.50" x2="353.96" y2="66.80" stroke="#000" stroke-width="2.5" stroke-linecap="round"/>
<line x1="353.96" y1="176.30" x2="353.96" y2="188.30" stroke="#000" stroke-width="2.5" stroke-linecap="round"/>
<circle cx="353.96" cy="47.50" r="1.25" fill="#000"/>
<circle cx="353.96" cy="195.30" r="1.25" fill="#000"/>
<circle cx="353.96" cy="49.10" r="1.25" fill="#000"/>
<circle cx="353.96" cy="193.70" r="1.25" fill="#000"/>
<circle cx="353.96" cy="50.70" r="1.25" fill="#000"/>
<circle cx="353.96" cy="192.10" r="1.25" fill="#000"/>
<circle cx="353.96" cy="52.00" r="1.25" fill="#000"/>
<circle cx="353.96" cy="190.80" r="1.25" fill="#000"/>
<circle cx="353.96" cy="53.30" r="1.25" fill="#000"/>
<circle cx="353.96" cy="189.50" r="1.25" fill="#000"/>
<circle cx="353.96" cy="15.90" r="1.35" fill="#000"/>
<circle cx="353.96" cy="29.40" r="1.35" fill="#000"/>
<circle cx="353.96" cy="33.70" r="1.35" fill="#000"/>
<circle cx="353.96" cy="38.00" r="1.35" fill="#000"/>
<circle cx="353.96" cy="42.90" r="1.35" fill="#000"/>
<circle cx="353.96" cy="199.60" r="1.35" fill="#000"/>
<circle cx="353.96" cy="203.90" r="1.35" fill="#000"/>
<circle cx="353.96" cy="206.20" r="1.35" fill="#000"/>
<circle cx="353.96" cy="220.00" r="1.35" fill="#000"/>
<rect x="345.21" y="108.50" width="17.50" height="27.90" fill="#93AA00" stroke="#333" stroke-width="0.8" />
<line x1="345.21" y1="119.50" x2="362.71" y2="119.50" stroke="#222" stroke-width="1.5" />
<line x1="353.96" y1="255.30" x2="353.96" y2="258.50" stroke="#4a4a4a" stroke-width="1.0" />
<text transform="translate(356.96,264.30) scale(1,1.2) rotate(-57)" font-size="5.45" text-anchor="end" font-weight="normal" fill="#222" stroke="#222" stroke-width="0.2" font-family='"Liberation Sans", Arial, Helvetica, sans-serif' >CK-3</text>
<line x1="377.26" y1="65.90" x2="377.26" y2="109.40" stroke="#8c8c8c" stroke-width="1.0" />
<line x1="377.26" y1="138.10" x2="377.26" y2="180.90" stroke="#8c8c8c" stroke-width="1.0" />
<line x1="377.26" y1="52.20" x2="377.26" y2="65.90" stroke="#000" stroke-width="2.5" stroke-linecap="round"/>
<line x1="377.26" y1="180.90" x2="377.26" y2="190.30" stroke="#000" stroke-width="2.5" stroke-linecap="round"/>
<circle cx="377.26" cy="45.20" r="1.25" fill="#000"/>
<circle cx="377.26" cy="197.30" r="1.25" fill="#000"/>
<circle cx="377.26" cy="46.80" r="1.25" fill="#000"/>
<circle cx="377.26" cy="195.70" r="1.25" fill="#000"/>
<circle cx="377.26" cy="48.40" r="1.25" fill="#000"/>
<circle cx="377.26" cy="194.10" r="1.25" fill="#000"/>
<circle cx="377.26" cy="49.70" r="1.25" fill="#000"/>
<circle cx="377.26" cy="192.80" r="1.25" fill="#000"/>
<circle cx="377.26" cy="51.00" r="1.25" fill="#000"/>
<circle cx="377.26" cy="191.50" r="1.25" fill="#000"/>
<circle cx="377.26" cy="23.70" r="1.35" fill="#000"/>
<circle cx="377.26" cy="26.60" r="1.35" fill="#000"/>
<circle cx="377.26" cy="33.20" r="1.35" fill="#000"/>
<circle cx="377.26" cy="41.80" r="1.35" fill="#000"/>
<circle cx="377.26" cy="200.20" r="1.35" fill="#000"/>
<circle cx="377.26" cy="206.80" r="1.35" fill="#000"/>
<circle cx="377.26" cy="214.50" r="1.35" fill="#000"/>
<circle cx="377.26" cy="216.80" r="1.35" fill="#000"/>
<circle cx="377.26" cy="232.60" r="1.35" fill="#000"/>
<rect x="368.51" y="109.40" width="17.50" height="28.70" fill="#00BA38" stroke="#333" stroke-width="0.8" />
<line x1="368.51" y1="120.30" x2="386.01" y2="120.30" stroke="#222" stroke-width="1.5" />
<line x1="377.26" y1="255.30" x2="377.26" y2="258.50" stroke="#4a4a4a" stroke-width="1.0" />
<text transform="translate(380.26,264.30) scale(1,1.2) rotate(-57)" font-size="5.45" text-anchor="end" font-weight="normal" fill="#222" stroke="#222" stroke-width="0.2" font-family='"Liberation Sans", Arial, Helvetica, sans-serif' >LC05-1</text>
<line x1="400.55" y1="66.80" x2="400.55" y2="109.70" stroke="#8c8c8c" stroke-width="1.0" />
<line x1="400.55" y1="138.10" x2="400.55" y2="180.90" stroke="#8c8c8c" stroke-width="1.0" />
<line x1="400.55" y1="46.50" x2="400.55" y2="66.80" stroke="#000" stroke-width="2.5" stroke-linecap="round"/>
<line x1="400.55" y1="180.90" x2="400.55" y2="197.50" stroke="#000" stroke-width="2.5" stroke-linecap="round"/>
<circle cx="400.55" cy="39.50" r="1.25" fill="#000"/>
<circle cx="400.55" cy="204.50" r="1.25" fill="#000"/>
<circle cx="400.55" cy="41.10" r="1.25" fill="#000"/>
<circle cx="400.55" cy="202.90" r="1.25" fill="#000"/>
<circle cx="400.55" cy="42.70" r="1.25" fill="#000"/>
<circle cx="400.55" cy="201.30" r="1.25" fill="#000"/>
<circle cx="400.55" cy="44.00" r="1.25" fill="#000"/>
<circle cx="400.55" cy="200.00" r="1.25" fill="#000"/>
<circle cx="400.55" cy="45.30" r="1.25" fill="#000"/>
<circle cx="400.55" cy="198.70" r="1.25" fill="#000"/>
<circle cx="400.55" cy="25.20" r="1.35" fill="#000"/>
<circle cx="400.55" cy="26.80" r="1.35" fill="#000"/>
<circle cx="400.55" cy="35.20" r="1.35" fill="#000"/>
<circle cx="400.55" cy="209.70" r="1.35" fill="#000"/>
<circle cx="400.55" cy="212.50" r="1.35" fill="#000"/>
<rect x="391.80" y="109.70" width="17.50" height="28.40" fill="#00C19F" stroke="#333" stroke-width="0.8" />
<line x1="391.80" y1="120.70" x2="409.30" y2="120.70" stroke="#222" stroke-width="1.5" />
<line x1="400.55" y1="255.30" x2="400.55" y2="258.50" stroke="#4a4a4a" stroke-width="1.0" />
<text transform="translate(403.55,264.30) scale(1,1.2) rotate(-57)" font-size="5.45" text-anchor="end" font-weight="normal" fill="#222" stroke="#222" stroke-width="0.2" font-family='"Liberation Sans", Arial, Helvetica, sans-serif' >LC05-2</text>
<line x1="423.84" y1="68.20" x2="423.84" y2="109.40" stroke="#8c8c8c" stroke-width="1.0" />
<line x1="423.84" y1="136.70" x2="423.84" y2="178.60" stroke="#8c8c8c" stroke-width="1.0" />
<line x1="423.84" y1="52.80" x2="423.84" y2="68.20" stroke="#000" stroke-width="2.5" stroke-linecap="round"/>
<line x1="423.84" y1="178.60" x2="423.84" y2="195.20" stroke="#000" stroke-width="2.5" stroke-linecap="round"/>
<circle cx="423.84" cy="45.80" r="1.25" fill="#000"/>
<circle cx="423.84" cy="202.20" r="1.25" fill="#000"/>
<circle cx="423.84" cy="47.40" r="1.25" fill="#000"/>
<circle cx="423.84" cy="200.60" r="1.25" fill="#000"/>
<circle cx="423.84" cy="49.00" r="1.25" fill="#000"/>
<circle cx="423.84" cy="199.00" r="1.25" fill="#000"/>
<circle cx="423.84" cy="50.30" r="1.25" fill="#000"/>
<circle cx="423.84" cy="197.70" r="1.25" fill="#000"/>
<circle cx="423.84" cy="51.60" r="1.25" fill="#000"/>
<circle cx="423.84" cy="196.40" r="1.25" fill="#000"/>
<circle cx="423.84" cy="25.70" r="1.35" fill="#000"/>
<circle cx="423.84" cy="28.00" r="1.35" fill="#000"/>
<circle cx="423.84" cy="39.50" r="1.35" fill="#000"/>
<circle cx="423.84" cy="41.80" r="1.35" fill="#000"/>
<circle cx="423.84" cy="205.90" r="1.35" fill="#000"/>
<circle cx="423.84" cy="208.20" r="1.35" fill="#000"/>
<circle cx="423.84" cy="213.10" r="1.35" fill="#000"/>
<rect x="415.09" y="109.40" width="17.50" height="27.30" fill="#00B9E3" stroke="#333" stroke-width="0.8" />
<line x1="415.09" y1="120.00" x2="432.59" y2="120.00" stroke="#222" stroke-width="1.5" />
<line x1="423.84" y1="255.30" x2="423.84" y2="258.50" stroke="#4a4a4a" stroke-width="1.0" />
<text transform="translate(426.84,264.30) scale(1,1.2) rotate(-57)" font-size="5.45" text-anchor="end" font-weight="normal" fill="#222" stroke="#222" stroke-width="0.2" font-family='"Liberation Sans", Arial, Helvetica, sans-serif' >LC05-3</text>
<line x1="447.14" y1="66.80" x2="447.14" y2="109.00" stroke="#8c8c8c" stroke-width="1.0" />
<line x1="447.14" y1="136.90" x2="447.14" y2="179.20" stroke="#8c8c8c" stroke-width="1.0" />
<line x1="447.14" y1="49.40" x2="447.14" y2="66.80" stroke="#000" stroke-width="2.5" stroke-linecap="round"/>
<line x1="447.14" y1="179.20" x2="447.14" y2="192.60" stroke="#000" stroke-width="2.5" stroke-linecap="round"/>
<circle cx="447.14" cy="42.40" r="1.25" fill="#000"/>
<circle cx="447.14" cy="199.60" r="1.25" fill="#000"/>
<circle cx="447.14" cy="44.00" r="1.25" fill="#000"/>
<circle cx="447.14" cy="198.00" r="1.25" fill="#000"/>
<circle cx="447.14" cy="45.60" r="1.25" fill="#000"/>
<circle cx="447.14" cy="196.40" r="1.25" fill="#000"/>
<circle cx="447.14" cy="46.90" r="1.25" fill="#000"/>
<circle cx="447.14" cy="195.10" r="1.25" fill="#000"/>
<circle cx="447.14" cy="48.20" r="1.25" fill="#000"/>
<circle cx="447.14" cy="193.80" r="1.25" fill="#000"/>
<circle cx="447.14" cy="24.30" r="1.35" fill="#000"/>
<circle cx="447.14" cy="34.60" r="1.35" fill="#000"/>
<circle cx="447.14" cy="39.50" r="1.35" fill="#000"/>
<circle cx="447.14" cy="203.90" r="1.35" fill="#000"/>
<circle cx="447.14" cy="208.20" r="1.35" fill="#000"/>
<rect x="438.39" y="109.00" width="17.50" height="27.90" fill="#619CFF" stroke="#333" stroke-width="0.8" />
<line x1="438.39" y1="119.80" x2="455.89" y2="119.80" stroke="#222" stroke-width="1.5" />
<line x1="447.14" y1="255.30" x2="447.14" y2="258.50" stroke="#4a4a4a" stroke-width="1.0" />
<text transform="translate(450.14,264.30) scale(1,1.2) rotate(-57)" font-size="5.45" text-anchor="end" font-weight="normal" fill="#222" stroke="#222" stroke-width="0.2" font-family='"Liberation Sans", Arial, Helvetica, sans-serif' >LC20-1</text>
<line x1="470.43" y1="65.90" x2="470.43" y2="108.50" stroke="#8c8c8c" stroke-width="1.0" />
<line x1="470.43" y1="137.20" x2="470.43" y2="180.00" stroke="#8c8c8c" stroke-width="1.0" />
<line x1="470.43" y1="50.20" x2="470.43" y2="65.90" stroke="#000" stroke-width="2.5" stroke-linecap="round"/>
<line x1="470.43" y1="180.00" x2="470.43" y2="187.40" stroke="#000" stroke-width="2.5" stroke-linecap="round"/>
<circle cx="470.43" cy="43.20" r="1.25" fill="#000"/>
<circle cx="470.43" cy="194.40" r="1.25" fill="#000"/>
<circle cx="470.43" cy="44.80" r="1.25" fill="#000"/>
<circle cx="470.43" cy="192.80" r="1.25" fill="#000"/>
<circle cx="470.43" cy="46.40" r="1.25" fill="#000"/>
<circle cx="470.43" cy="191.20" r="1.25" fill="#000"/>
<circle cx="470.43" cy="47.70" r="1.25" fill="#000"/>
<circle cx="470.43" cy="189.90" r="1.25" fill="#000"/>
<circle cx="470.43" cy="49.00" r="1.25" fill="#000"/>
<circle cx="470.43" cy="188.60" r="1.25" fill="#000"/>
<circle cx="470.43" cy="23.10" r="1.35" fill="#000"/>
<circle cx="470.43" cy="29.40" r="1.35" fill="#000"/>
<circle cx="470.43" cy="32.90" r="1.35" fill="#000"/>
<circle cx="470.43" cy="40.30" r="1.35" fill="#000"/>
<circle cx="470.43" cy="199.30" r="1.35" fill="#000"/>
<circle cx="470.43" cy="201.60" r="1.35" fill="#000"/>
<circle cx="470.43" cy="205.90" r="1.35" fill="#000"/>
<rect x="461.68" y="108.50" width="17.50" height="28.70" fill="#DB72FB" stroke="#333" stroke-width="0.8" />
<line x1="461.68" y1="119.50" x2="479.18" y2="119.50" stroke="#222" stroke-width="1.5" />
<line x1="470.43" y1="255.30" x2="470.43" y2="258.50" stroke="#4a4a4a" stroke-width="1.0" />
<text transform="translate(473.43,264.30) scale(1,1.2) rotate(-57)" font-size="5.45" text-anchor="end" font-weight="normal" fill="#222" stroke="#222" stroke-width="0.2" font-family='"Liberation Sans", Arial, Helvetica, sans-serif' >LC20-2</text>
<line x1="493.72" y1="66.80" x2="493.72" y2="109.00" stroke="#8c8c8c" stroke-width="1.0" />
<line x1="493.72" y1="136.90" x2="493.72" y2="178.60" stroke="#8c8c8c" stroke-width="1.0" />
<line x1="493.72" y1="50.80" x2="493.72" y2="66.80" stroke="#000" stroke-width="2.5" stroke-linecap="round"/>
<line x1="493.72" y1="178.60" x2="493.72" y2="190.90" stroke="#000" stroke-width="2.5" stroke-linecap="round"/>
<circle cx="493.72" cy="43.80" r="1.25" fill="#000"/>
<circle cx="493.72" cy="197.90" r="1.25" fill="#000"/>
<circle cx="493.72" cy="45.40" r="1.25" fill="#000"/>
<circle cx="493.72" cy="196.30" r="1.25" fill="#000"/>
<circle cx="493.72" cy="47.00" r="1.25" fill="#000"/>
<circle cx="493.72" cy="194.70" r="1.25" fill="#000"/>
<circle cx="493.72" cy="48.30" r="1.25" fill="#000"/>
<circle cx="493.72" cy="193.40" r="1.25" fill="#000"/>
<circle cx="493.72" cy="49.60" r="1.25" fill="#000"/>
<circle cx="493.72" cy="192.10" r="1.25" fill="#000"/>
<circle cx="493.72" cy="24.50" r="1.35" fill="#000"/>
<circle cx="493.72" cy="30.30" r="1.35" fill="#000"/>
<circle cx="493.72" cy="32.90" r="1.35" fill="#000"/>
<circle cx="493.72" cy="40.30" r="1.35" fill="#000"/>
<circle cx="493.72" cy="206.80" r="1.35" fill="#000"/>
<circle cx="493.72" cy="216.00" r="1.35" fill="#000"/>
<rect x="484.97" y="109.00" width="17.50" height="27.90" fill="#FF61C3" stroke="#333" stroke-width="0.8" />
<line x1="484.97" y1="119.50" x2="502.47" y2="119.50" stroke="#222" stroke-width="1.5" />
<line x1="493.72" y1="255.30" x2="493.72" y2="258.50" stroke="#4a4a4a" stroke-width="1.0" />
<text transform="translate(496.72,264.30) scale(1,1.2) rotate(-57)" font-size="5.45" text-anchor="end" font-weight="normal" fill="#222" stroke="#222" stroke-width="0.2" font-family='"Liberation Sans", Arial, Helvetica, sans-serif' >LC20-3</text>
<text transform="translate(516.70,76.90) scale(1,1.2)" font-size="5.9" text-anchor="start" font-weight="bold" fill="#222" font-family='"Liberation Sans", Arial, Helvetica, sans-serif' >Sample</text>
<rect x="516.60" y="79.50" width="10.40" height="12.00" fill="#f2f2f2" stroke="#e2e2e2" stroke-width="0.6" />
<line x1="521.90" y1="80.30" x2="521.90" y2="90.70" stroke="#555" stroke-width="0.7" />
<rect x="518.00" y="82.40" width="7.80" height="6.20" fill="#F8766D" stroke="#333" stroke-width="0.6" />
<line x1="518.00" y1="85.50" x2="525.80" y2="85.50" stroke="#222" stroke-width="1.0" />
<text transform="translate(528.60,87.90) scale(1,1.2)" font-size="5.8" text-anchor="start" font-weight="normal" fill="#222" stroke="#222" stroke-width="0.05" font-family='"Liberation Sans", Arial, Helvetica, sans-serif' >CK-1</text>
<rect x="516.60" y="91.68" width="10.40" height="12.00" fill="#f2f2f2" stroke="#e2e2e2" stroke-width="0.6" />
<line x1="521.90" y1="92.48" x2="521.90" y2="102.88" stroke="#555" stroke-width="0.7" />
<rect x="518.00" y="94.58" width="7.80" height="6.20" fill="#D39200" stroke="#333" stroke-width="0.6" />
<line x1="518.00" y1="97.68" x2="525.80" y2="97.68" stroke="#222" stroke-width="1.0" />
<text transform="translate(528.60,100.08) scale(1,1.2)" font-size="5.8" text-anchor="start" font-weight="normal" fill="#222" stroke="#222" stroke-width="0.05" font-family='"Liberation Sans", Arial, Helvetica, sans-serif' >CK-2</text>
<rect x="516.60" y="103.86" width="10.40" height="12.00" fill="#f2f2f2" stroke="#e2e2e2" stroke-width="0.6" />
<line x1="521.90" y1="104.66" x2="521.90" y2="115.06" stroke="#555" stroke-width="0.7" />
<rect x="518.00" y="106.76" width="7.80" height="6.20" fill="#93AA00" stroke="#333" stroke-width="0.6" />
<line x1="518.00" y1="109.86" x2="525.80" y2="109.86" stroke="#222" stroke-width="1.0" />
<text transform="translate(528.60,112.26) scale(1,1.2)" font-size="5.8" text-anchor="start" font-weight="normal" fill="#222" stroke="#222" stroke-width="0.05" font-family='"Liberation Sans", Arial, Helvetica, sans-serif' >CK-3</text>
<rect x="516.60" y="116.04" width="10.40" height="12.00" fill="#f2f2f2" stroke="#e2e2e2" stroke-width="0.6" />
<line x1="521.90" y1="116.84" x2="521.90" y2="127.24" stroke="#555" stroke-width="0.7" />
<rect x="518.00" y="118.94" width="7.80" height="6.20" fill="#00BA38" stroke="#333" stroke-width="0.6" />
<line x1="518.00" y1="122.04" x2="525.80" y2="122.04" stroke="#222" stroke-width="1.0" />
<text transform="translate(528.60,124.44) scale(1,1.2)" font-size="5.8" text-anchor="start" font-weight="normal" fill="#222" stroke="#222" stroke-width="0.05" font-family='"Liberation Sans", Arial, Helvetica, sans-serif' >LC05-1</text>
<rect x="516.60" y="128.22" width="10.40" height="12.00" fill="#f2f2f2" stroke="#e2e2e2" stroke-width="0.6" />
<line x1="521.90" y1="129.02" x2="521.90" y2="139.42" stroke="#555" stroke-width="0.7" />
<rect x="518.00" y="131.12" width="7.80" height="6.20" fill="#00C19F" stroke="#333" stroke-width="0.6" />
<line x1="518.00" y1="134.22" x2="525.80" y2="134.22" stroke="#222" stroke-width="1.0" />
<text transform="translate(528.60,136.62) scale(1,1.2)" font-size="5.8" text-anchor="start" font-weight="normal" fill="#222" stroke="#222" stroke-width="0.05" font-family='"Liberation Sans", Arial, Helvetica, sans-serif' >LC05-2</text>
<rect x="516.60" y="140.40" width="10.40" height="12.00" fill="#f2f2f2" stroke="#e2e2e2" stroke-width="0.6" />
<line x1="521.90" y1="141.20" x2="521.90" y2="151.60" stroke="#555" stroke-width="0.7" />
<rect x="518.00" y="143.30" width="7.80" height="6.20" fill="#00B9E3" stroke="#333" stroke-width="0.6" />
<line x1="518.00" y1="146.40" x2="525.80" y2="146.40" stroke="#222" stroke-width="1.0" />
<text transform="translate(528.60,148.80) scale(1,1.2)" font-size="5.8" text-anchor="start" font-weight="normal" fill="#222" stroke="#222" stroke-width="0.05" font-family='"Liberation Sans", Arial, Helvetica, sans-serif' >LC05-3</text>
<rect x="516.60" y="152.58" width="10.40" height="12.00" fill="#f2f2f2" stroke="#e2e2e2" stroke-width="0.6" />
<line x1="521.90" y1="153.38" x2="521.90" y2="163.78" stroke="#555" stroke-width="0.7" />
<rect x="518.00" y="155.48" width="7.80" height="6.20" fill="#619CFF" stroke="#333" stroke-width="0.6" />
<line x1="518.00" y1="158.58" x2="525.80" y2="158.58" stroke="#222" stroke-width="1.0" />
<text transform="translate(528.60,160.98) scale(1,1.2)" font-size="5.8" text-anchor="start" font-weight="normal" fill="#222" stroke="#222" stroke-width="0.05" font-family='"Liberation Sans", Arial, Helvetica, sans-serif' >LC20-1</text>
<rect x="516.60" y="164.76" width="10.40" height="12.00" fill="#f2f2f2" stroke="#e2e2e2" stroke-width="0.6" />
<line x1="521.90" y1="165.56" x2="521.90" y2="175.96" stroke="#555" stroke-width="0.7" />
<rect x="518.00" y="167.66" width="7.80" height="6.20" fill="#DB72FB" stroke="#333" stroke-width="0.6" />
<line x1="518.00" y1="170.76" x2="525.80" y2="170.76" stroke="#222" stroke-width="1.0" />
<text transform="translate(528.60,173.16) scale(1,1.2)" font-size="5.8" text-anchor="start" font-weight="normal" fill="#222" stroke="#222" stroke-width="0.05" font-family='"Liberation Sans", Arial, Helvetica, sans-serif' >LC20-2</text>
<rect x="516.60" y="176.94" width="10.40" height="12.00" fill="#f2f2f2" stroke="#e2e2e2" stroke-width="0.6" />
<line x1="521.90" y1="177.74" x2="521.90" y2="188.14" stroke="#555" stroke-width="0.7" />
<rect x="518.00" y="179.84" width="7.80" height="6.20" fill="#FF61C3" stroke="#333" stroke-width="0.6" />
<line x1="518.00" y1="182.94" x2="525.80" y2="182.94" stroke="#222" stroke-width="1.0" />
<text transform="translate(528.60,185.34) scale(1,1.2)" font-size="5.8" text-anchor="start" font-weight="normal" fill="#222" stroke="#222" stroke-width="0.05" font-family='"Liberation Sans", Arial, Helvetica, sans-serif' >LC20-3</text>
</svg>
</body></html>
